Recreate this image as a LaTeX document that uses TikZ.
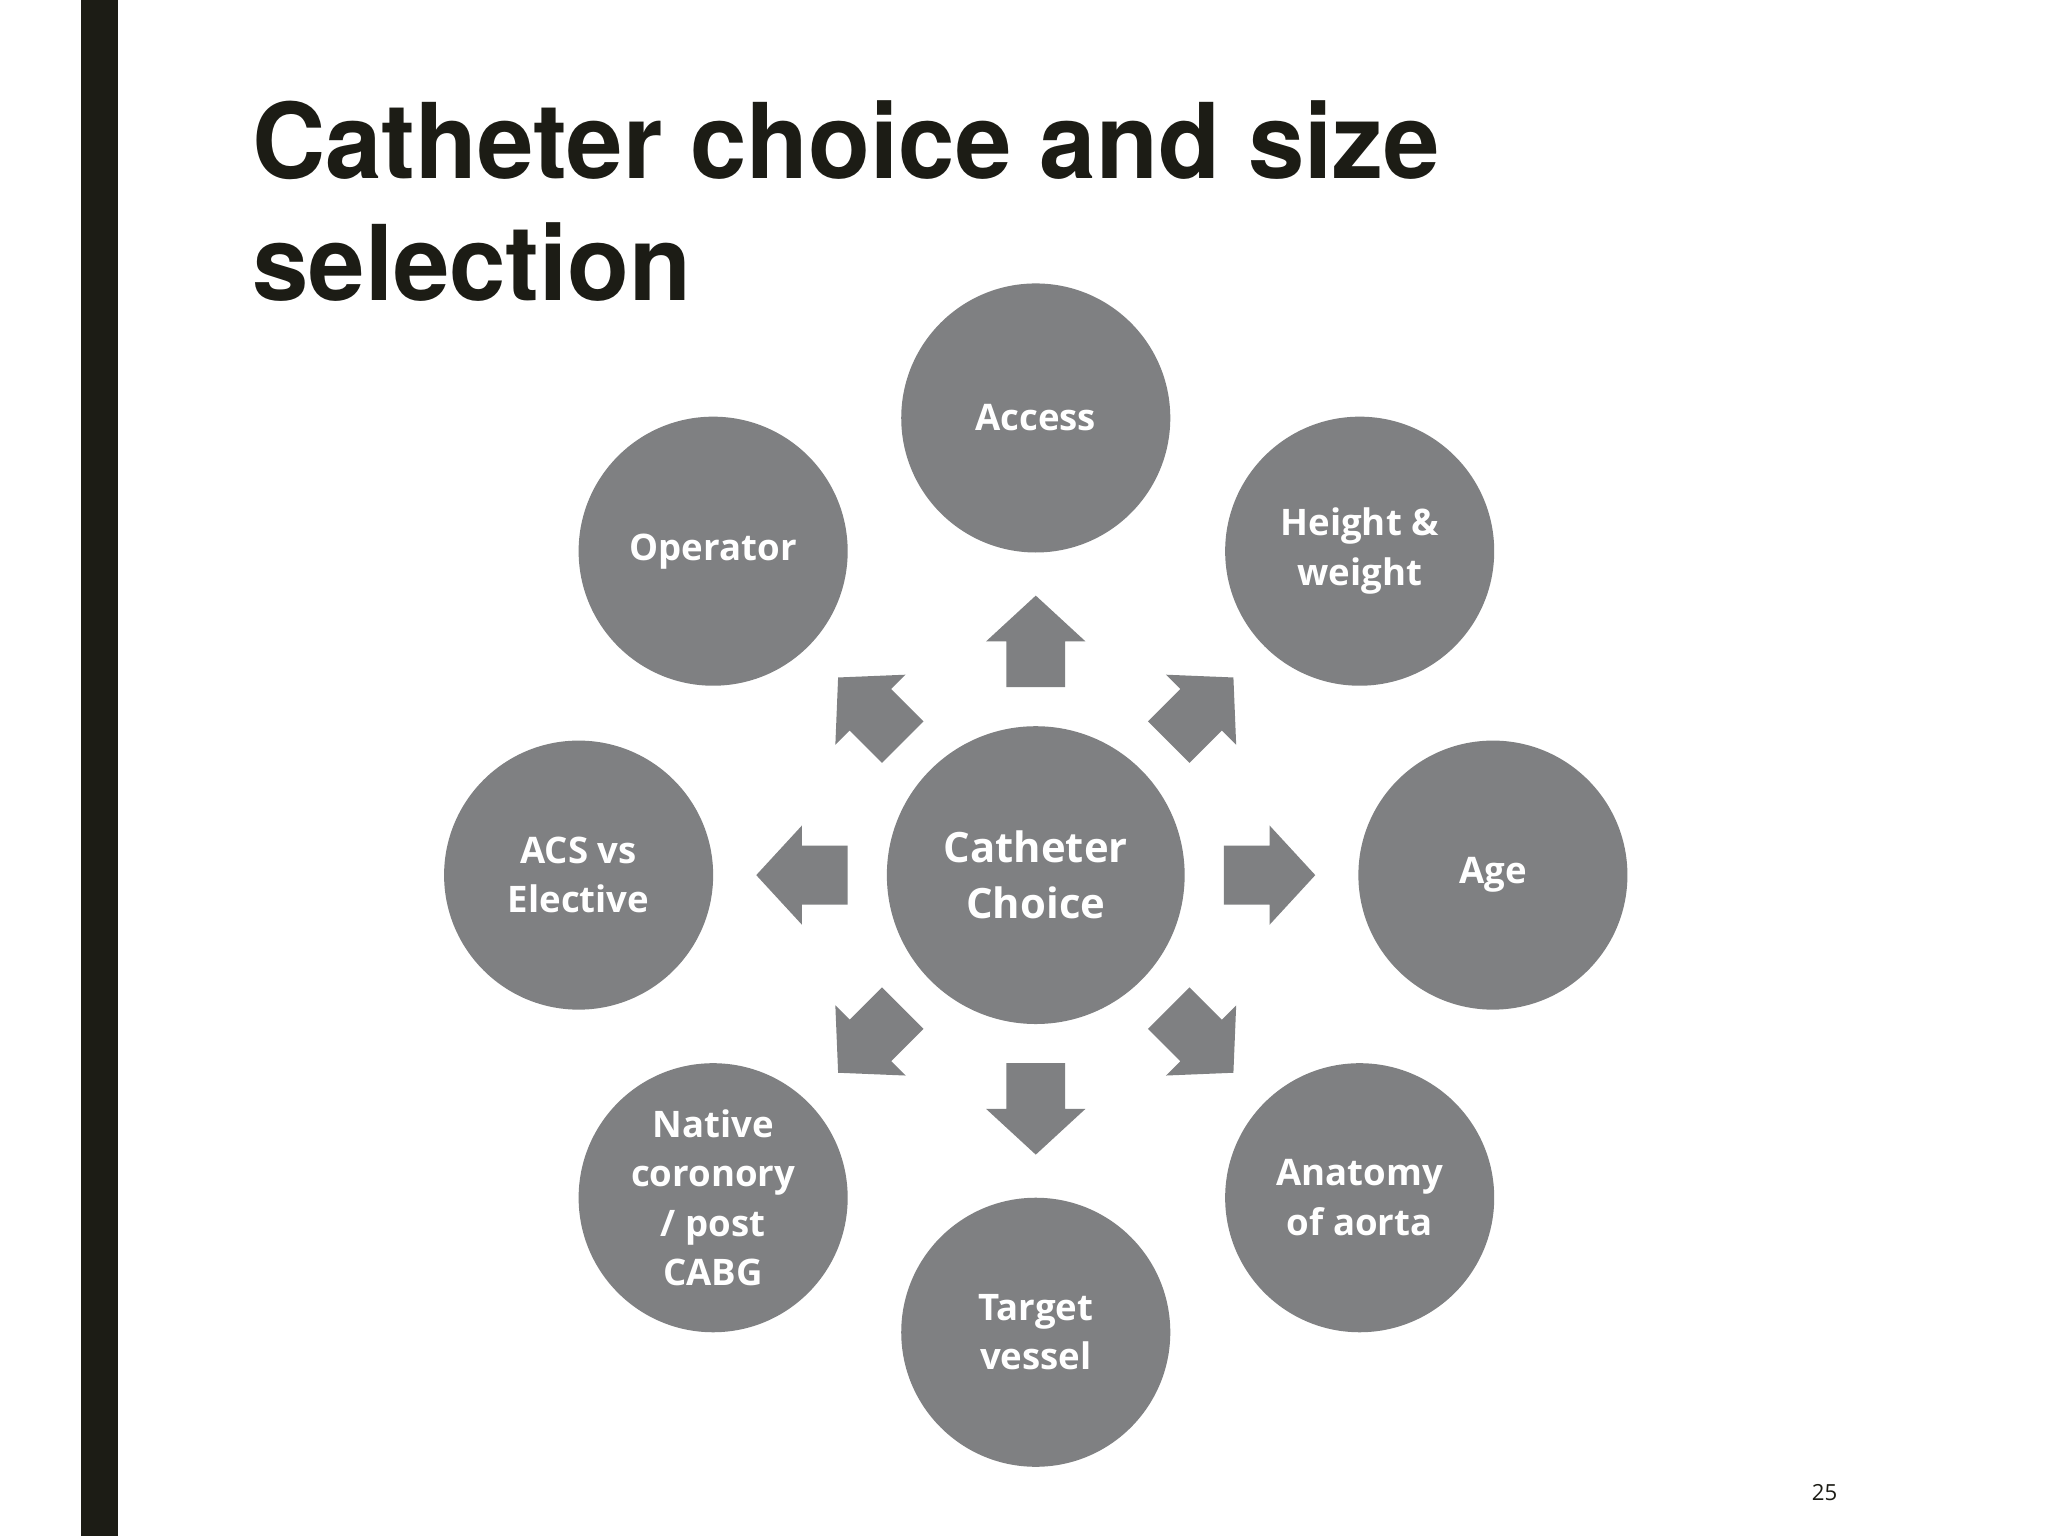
\documentclass[tikz,border=0pt]{standalone}
\usepackage{fontspec}
\setmainfont{Open Sans}
\newfontfamily\titlefont{TeX Gyre Heros}
\begin{document}
\begin{tikzpicture}[x=1pt,y=-1pt,
  circ/.style={circle,fill=cgray,minimum size=206pt,inner sep=0pt,text=white,font=\bfseries\fontsize{28}{38}\selectfont,align=center},
  blockarrow/.style={fill=cgray}]
\definecolor{cgray}{HTML}{7F8082}
\definecolor{barc}{HTML}{1C1C15}
\useasboundingbox (0,0) rectangle (1568,1176);
\fill[white] (0,0) rectangle (1568,1176);
\fill[barc] (62,0) rectangle (90,1176);
\node[anchor=base west,inner sep=0pt,font=\titlefont\bfseries\fontsize{80}{93}\selectfont,text=barc,xscale=0.97] (t1) at (193,137) {Catheter choice and size};
\node[anchor=base west,inner sep=0pt,font=\titlefont\bfseries\fontsize{80}{93}\selectfont,text=barc,xscale=0.97] (t2) at (193,230) {selection};
\node[circ,minimum size=228pt,font=\bfseries\fontsize{32}{43}\selectfont] (c) at (793,670) {Catheter\\Choice};
\node[circ] (acc) at (793,320) {Access};
\node[circ] (hw) at (1041,422) {Height \&\\weight};
\node[circ] (age) at (1143,670) {Age};
\node[circ] (ana) at (1041,917) {Anatomy\\of aorta};
\node[circ] (tv) at (793,1020) {Target\\vessel};
\node[circ] (nat) at (546,917) {Native\\coronory\\/ post\\CABG};
\node[circ] (acs) at (443,670) {ACS vs\\Elective};
\node[circ] (op) at (546,422) {Operator};
\foreach \a in {0,45,90,135,180,225,270,315}{
  \fill[blockarrow,shift={(c.center)},rotate=\a,shift={(179,0)}]
    (-35,-22.5) -- (0,-22.5) -- (0,-38) -- (35,0) -- (0,38) -- (0,22.5) -- (-35,22.5) -- cycle;
}
\node[font=\fontsize{17}{20}\selectfont,text=barc] (pg) at (1397,1143) {25};
\end{tikzpicture}
\end{document}
